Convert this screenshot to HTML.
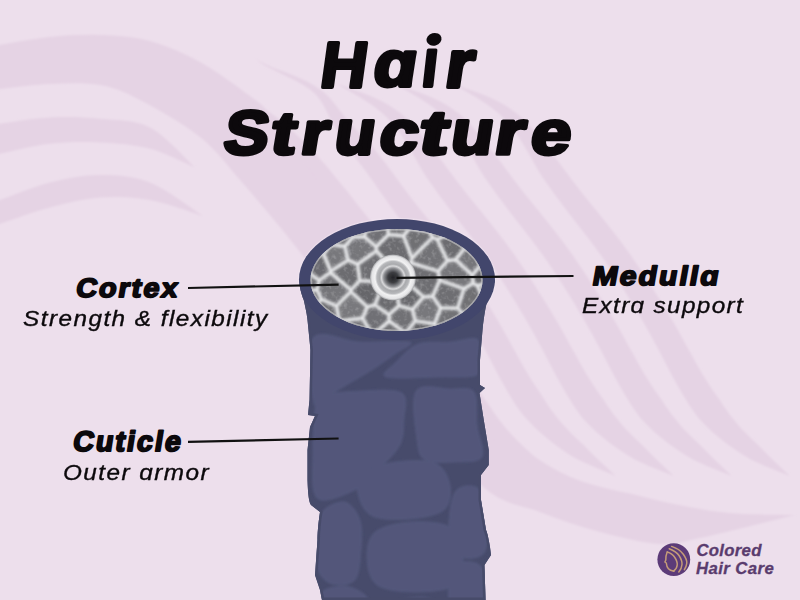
<!DOCTYPE html>
<html><head><meta charset="utf-8">
<style>
html,body{margin:0;padding:0;}
body{width:800px;height:600px;overflow:hidden;background:#eddfec;position:relative;font-family:"Liberation Sans",sans-serif;}
svg{position:absolute;left:0;top:0;}
.t{position:absolute;white-space:nowrap;color:#0c090c;line-height:1;}
.title{font-weight:bold;font-size:65px;-webkit-text-stroke:2.4px #0c090c;transform-origin:0 0;transform:skewX(-9deg) scaleX(1.215);}
.lab{font-weight:bold;font-size:29px;-webkit-text-stroke:1px #0c090c;transform-origin:0 0;transform:skewX(-9deg) scaleX(1.17);}
.sub{font-style:italic;-webkit-text-stroke:0.35px #0c090c;font-size:21.5px;transform-origin:0 0;transform:scaleX(1.13);}
.g{position:absolute;left:0;top:0;line-height:1;white-space:nowrap;transform-origin:0 0;;}
.logo{font-weight:bold;font-style:italic;font-size:16.8px;color:#5a3c6e;-webkit-text-stroke:0.3px #5a3c6e;}
</style></head>
<body>
<svg width="800" height="600" viewBox="0 0 800 600">
<defs>
 <clipPath id="cx"><ellipse cx="396.5" cy="280" rx="86" ry="51"/></clipPath>
 <clipPath id="bd"><path d="M299.4,280 C300,290 302,296 303.75,300 C306,310 307,315 307.5,320 L310.5,350 L309.5,400 L308,415 L315,416 L310,427 L307.5,450 L307.5,480 C308,495 309,502 311,505 L320,512 C318,525 317.5,535 317.5,540 L315,575 L320,590 L322,600 L485.5,600 L484.5,565 L491,555 C490,545 488,535 486,530 L481,500 L481,475 L488.75,465 L488.75,450 L483.75,420 L479.5,393 L485,388 L480,385 L480,360 L482.5,330 C484,315 486,305 487.5,300 C490,293 494,286 495,280 Z"/></clipPath>
 <filter id="bl" x="-10%" y="-10%" width="120%" height="120%"><feGaussianBlur stdDeviation="0.9"/></filter>
 <filter id="bb" x="-5%" y="-5%" width="110%" height="110%"><feGaussianBlur stdDeviation="1.1"/></filter>
 <filter id="noise" x="0" y="0" width="100%" height="100%"><feTurbulence type="fractalNoise" baseFrequency="0.25" numOctaves="2" seed="3"/><feColorMatrix type="matrix" values="0 0 0 0 0.85  0 0 0 0 0.85  0 0 0 0 0.87  0 0 0 1.6 -0.75"/></filter>
 <filter id="bl2" x="-10%" y="-10%" width="120%" height="120%"><feGaussianBlur stdDeviation="0.6"/></filter>
 <radialGradient id="med" cx="0.5" cy="0.5" r="0.5">
  <stop offset="0" stop-color="#252528"/><stop offset="0.22" stop-color="#3c3d41"/><stop offset="0.4" stop-color="#8d8e92"/>
  <stop offset="0.5" stop-color="#d9d9db"/><stop offset="0.58" stop-color="#a9aaad"/><stop offset="0.7" stop-color="#b7b8bb"/>
  <stop offset="0.78" stop-color="#f2f2f3"/><stop offset="0.92" stop-color="#e4e4e6"/><stop offset="1" stop-color="#a0a1a4"/>
 </radialGradient>
</defs>
<g fill="#e5d3e4" filter="url(#bb)">
<path d="M-20.0,50.0 C-16.7,49.2 -11.7,47.2 0.0,45.0 C11.7,42.8 33.3,38.7 50.0,37.0 C66.7,35.3 83.3,34.3 100.0,35.0 C116.7,35.7 133.3,36.5 150.0,41.0 C166.7,45.5 183.3,52.8 200.0,62.0 C216.7,71.2 238.3,87.3 250.0,96.0 C261.7,104.7 261.0,103.3 270.0,114.0 C279.0,124.7 292.0,143.7 304.0,160.0 C316.0,176.3 322.7,183.7 342.0,212.0 C361.3,240.3 397.0,296.7 420.0,330.0 C443.0,363.3 456.7,388.3 480.0,412.0 C503.3,435.7 533.3,458.0 560.0,472.0 C586.7,486.0 613.3,489.3 640.0,496.0 C666.7,502.7 694.2,508.8 720.0,512.0 C745.8,515.2 782.5,514.5 795.0,515.0 L795.0,515.0 C779.2,518.8 722.5,533.2 700.0,538.0 C677.5,542.8 676.7,545.0 660.0,544.0 C643.3,543.0 620.0,537.3 600.0,532.0 C580.0,526.7 560.0,520.0 540.0,512.0 C520.0,504.0 503.3,506.0 480.0,484.0 C456.7,462.0 430.0,418.7 400.0,380.0 C370.0,341.3 321.0,278.7 300.0,252.0 C279.0,225.3 284.0,232.0 274.0,220.0 C264.0,208.0 252.3,193.8 240.0,180.0 C227.7,166.2 216.7,150.3 200.0,137.0 C183.3,123.7 156.7,108.7 140.0,100.0 C123.3,91.3 115.0,87.7 100.0,85.0 C85.0,82.3 66.7,83.3 50.0,84.0 C33.3,84.7 11.7,87.7 0.0,89.0 C-11.7,90.3 -16.7,91.5 -20.0,92.0 Z"/>
<path d="M-20.0,128.0 C-16.7,127.3 -11.7,125.5 0.0,123.8 C11.7,122.0 33.3,118.3 50.0,117.5 C66.7,116.7 83.3,117.1 100.0,118.8 C116.7,120.4 134.2,119.4 150.0,127.5 C165.8,135.6 187.5,160.8 195.0,167.5 C187.5,164.4 165.8,152.9 150.0,148.8 C134.2,144.6 116.7,143.3 100.0,142.5 C83.3,141.7 66.7,141.9 50.0,143.8 C33.3,145.6 11.7,151.4 0.0,153.8 C-11.7,156.1 -16.7,157.3 -20.0,158.0 Z"/>
<path d="M-20.0,207.0 C-16.7,205.8 -11.7,204.1 0.0,200.0 C11.7,195.9 33.3,186.7 50.0,182.5 C66.7,178.3 83.3,175.0 100.0,175.0 C116.7,175.0 132.8,175.7 150.0,182.5 C167.2,189.3 194.2,210.4 203.0,216.0 C194.2,213.3 167.2,203.1 150.0,200.0 C132.8,196.9 116.7,196.2 100.0,197.5 C83.3,198.8 66.7,203.1 50.0,207.5 C33.3,211.9 11.7,220.0 0.0,223.8 C-11.7,227.5 -16.7,229.0 -20.0,230.0 Z"/>
<path d="M235.0,90.0 L240.2,93.9 L245.3,97.8 L250.3,101.9 L255.2,106.1 L260.0,110.4 L264.6,114.7 L269.2,119.2 L273.7,123.8 L278.1,128.4 L282.4,133.2 L286.6,138.0 L290.6,142.9 L294.6,147.8 L298.5,152.9 L302.2,158.0 L305.9,163.2 L309.4,168.4 L312.9,173.7 L316.4,179.1 L319.8,184.5 L323.2,190.0 L326.6,195.5 L330.0,201.0 L333.6,206.4 L337.5,211.7 L341.4,217.0 L345.4,222.2 L349.4,227.3 L353.4,232.4 L357.3,237.4 L361.2,242.5 L365.1,247.5 L368.8,252.6 L372.5,257.7 L376.2,262.8 L379.8,268.1 L383.3,273.3 L386.8,278.6 L390.2,284.0 L393.6,289.4 L397.0,294.8 L400.3,300.2 L403.6,305.7 L406.9,311.2 L410.1,316.6 L413.4,322.1 L416.5,327.6 L419.7,333.2 L422.7,338.7 L425.8,344.3 L428.8,350.0 L431.8,355.7 L434.8,361.5 L437.8,367.3 L440.9,373.1 L444.1,378.9 L447.3,384.7 L450.6,390.4 L454.0,396.2 L457.6,401.8 L461.3,407.4 L465.1,413.0 L469.1,418.4 L473.9,423.3 L478.9,428.0 L484.1,432.5 L489.4,436.7 L494.8,440.7 L500.3,444.6 L505.9,448.3 L511.5,451.8 L517.3,455.2 L523.0,458.5 L528.8,461.6 L534.7,464.7 L540.5,467.6 L546.4,470.5 L552.2,473.3 L558.0,476.0 L558.0,476.0 L553.0,472.0 L548.0,467.9 L543.0,463.8 L538.0,459.6 L533.2,455.4 L528.3,451.1 L523.6,446.7 L519.0,442.2 L514.5,437.7 L510.2,433.1 L506.0,428.4 L502.1,423.6 L498.3,418.7 L494.7,413.8 L491.4,408.8 L488.1,403.7 L484.4,398.9 L480.9,394.0 L477.4,388.9 L474.1,383.7 L470.8,378.4 L467.6,373.0 L464.4,367.5 L461.3,362.0 L458.2,356.3 L455.1,350.7 L451.9,345.0 L448.8,339.2 L445.7,333.5 L442.4,327.8 L439.2,322.1 L435.9,316.4 L432.5,310.8 L429.1,305.2 L425.7,299.7 L422.3,294.2 L418.9,288.7 L415.4,283.2 L411.9,277.7 L408.3,272.3 L404.7,266.8 L401.0,261.4 L397.2,256.0 L393.4,250.6 L389.6,245.3 L385.6,240.0 L381.6,234.8 L377.6,229.7 L373.5,224.6 L369.4,219.6 L365.4,214.6 L361.4,209.6 L357.4,204.6 L353.5,199.6 L349.7,194.6 L345.7,189.6 L341.7,184.7 L337.6,179.7 L333.5,174.7 L329.3,169.6 L325.1,164.6 L320.8,159.7 L316.5,154.7 L312.0,149.9 L307.4,145.2 L302.8,140.5 L298.0,136.0 L293.2,131.5 L288.3,127.2 L283.3,122.9 L278.3,118.8 L273.1,114.8 L267.9,110.9 L262.6,107.1 L257.2,103.4 L251.8,99.9 L246.2,96.4 L240.7,93.2 L235.0,90.0Z"/>
<path d="M254.0,58.0 L259.4,62.0 L265.4,65.7 L271.7,69.1 L278.3,72.3 L284.9,75.5 L291.6,78.8 L298.1,82.1 L304.3,85.7 L310.1,89.6 L315.2,94.1 L319.5,99.0 L323.0,104.4 L326.2,110.4 L329.4,116.9 L332.8,123.5 L336.5,130.0 L340.4,136.3 L344.3,142.4 L348.4,148.5 L352.5,154.3 L356.9,159.8 L361.2,165.3 L365.4,170.8 L369.5,176.4 L373.6,182.1 L377.6,187.9 L381.7,193.8 L385.8,199.6 L390.0,205.5 L394.3,211.4 L398.6,217.2 L403.0,223.0 L407.4,228.6 L411.7,234.3 L416.1,239.9 L420.3,245.4 L424.5,251.0 L428.6,256.6 L432.6,262.3 L436.6,268.1 L440.4,273.9 L444.2,279.8 L448.0,285.7 L451.7,291.7 L455.4,297.7 L459.1,303.7 L462.7,309.8 L466.3,315.8 L469.8,321.9 L473.3,328.0 L476.7,334.1 L480.1,340.3 L483.4,346.5 L486.7,352.8 L490.0,359.1 L493.3,365.5 L496.7,371.9 L500.1,378.4 L503.7,384.8 L507.3,391.2 L511.1,397.6 L515.0,403.9 L519.2,410.1 L523.9,415.9 L529.0,421.5 L534.3,426.9 L539.8,432.1 L545.5,437.1 L551.3,441.8 L557.3,446.3 L563.3,450.6 L569.5,454.7 L575.9,458.5 L582.6,461.7 L589.3,464.8 L596.0,467.8 L602.7,470.6 L609.3,473.3 L616.0,476.0 L616.0,476.0 L610.7,471.2 L605.4,466.3 L600.1,461.4 L594.9,456.4 L589.8,451.4 L584.9,446.2 L579.7,441.4 L574.6,436.7 L569.7,431.8 L565.0,426.8 L560.5,421.8 L556.2,416.6 L552.2,411.3 L548.4,405.9 L544.8,400.3 L541.3,394.7 L537.4,389.1 L533.7,383.5 L530.1,377.7 L526.5,371.7 L523.0,365.7 L519.5,359.5 L516.1,353.3 L512.6,347.0 L509.2,340.7 L505.7,334.4 L502.1,328.0 L498.5,321.7 L494.8,315.5 L491.1,309.3 L487.3,303.2 L483.5,297.1 L479.7,291.0 L475.8,284.9 L471.9,278.9 L468.0,272.8 L463.9,266.8 L459.8,260.8 L455.7,254.9 L451.4,249.0 L447.1,243.1 L442.7,237.3 L438.2,231.6 L433.7,225.9 L429.2,220.4 L424.7,214.9 L420.2,209.4 L415.9,203.9 L411.6,198.4 L407.3,192.8 L403.1,187.2 L398.9,181.5 L394.7,175.7 L390.5,169.9 L386.1,164.1 L381.7,158.4 L377.2,152.7 L372.6,147.0 L367.9,141.6 L363.0,136.4 L358.1,131.4 L353.2,126.4 L348.6,121.2 L344.1,116.0 L339.7,110.5 L335.4,104.7 L330.7,98.9 L325.4,93.5 L319.4,88.9 L313.2,84.9 L306.7,81.3 L300.0,78.2 L293.1,75.3 L286.2,72.6 L279.3,70.0 L272.5,67.4 L266.0,64.5 L259.8,61.5 L254.0,58.0Z"/>
<path d="M337.0,84.0 L342.7,87.2 L348.5,90.5 L354.3,93.9 L360.0,97.3 L365.7,100.9 L371.2,104.6 L376.5,108.5 L381.5,112.6 L386.2,116.8 L390.5,121.3 L394.6,125.9 L398.4,130.9 L402.0,136.1 L405.5,141.5 L408.8,147.0 L412.2,152.8 L415.5,158.6 L418.8,164.5 L422.2,170.4 L425.8,176.2 L429.7,181.8 L433.6,187.3 L437.5,192.8 L441.5,198.2 L445.5,203.6 L449.6,208.9 L453.6,214.3 L457.7,219.5 L461.8,224.8 L465.9,230.1 L469.9,235.3 L474.0,240.5 L477.9,245.8 L481.8,251.0 L485.6,256.3 L489.4,261.6 L493.0,267.0 L496.7,272.4 L500.3,277.9 L503.8,283.4 L507.3,288.9 L510.8,294.5 L514.3,300.1 L517.7,305.8 L521.0,311.4 L524.4,317.1 L527.7,322.7 L530.9,328.4 L534.1,334.1 L537.3,339.9 L540.4,345.7 L543.5,351.5 L546.6,357.4 L549.7,363.4 L552.8,369.4 L556.0,375.4 L559.3,381.4 L562.6,387.4 L566.1,393.4 L569.7,399.3 L573.4,405.2 L577.3,411.1 L581.4,416.8 L586.1,422.1 L591.1,427.1 L596.4,432.0 L601.7,436.6 L607.2,441.0 L612.8,445.2 L618.5,449.2 L624.3,453.1 L630.2,456.8 L636.2,460.2 L642.5,463.1 L648.8,465.9 L655.1,468.5 L661.5,471.1 L667.7,473.6 L674.0,476.0 L674.0,476.0 L669.1,471.4 L664.2,466.8 L659.3,462.2 L654.5,457.5 L649.7,452.7 L645.1,447.9 L640.3,443.3 L635.5,438.8 L630.9,434.3 L626.4,429.7 L622.2,424.9 L618.1,420.1 L614.2,415.3 L610.6,410.3 L607.1,405.2 L603.8,400.0 L600.1,395.0 L596.5,389.9 L593.0,384.6 L589.6,379.2 L586.2,373.7 L582.9,368.1 L579.7,362.4 L576.5,356.6 L573.3,350.8 L570.0,344.9 L566.8,339.0 L563.5,333.1 L560.2,327.1 L556.8,321.3 L553.3,315.4 L549.9,309.6 L546.4,303.9 L542.8,298.2 L539.2,292.5 L535.6,286.8 L532.0,281.1 L528.3,275.5 L524.6,269.8 L520.8,264.2 L517.0,258.6 L513.1,253.1 L509.1,247.6 L505.1,242.1 L501.0,236.7 L496.8,231.3 L492.7,226.0 L488.5,220.7 L484.3,215.5 L480.1,210.3 L475.9,205.2 L471.7,200.0 L467.6,194.9 L463.5,189.7 L459.5,184.6 L455.5,179.4 L451.6,174.1 L447.7,168.9 L443.8,163.6 L439.8,158.4 L435.7,153.2 L431.6,147.9 L427.4,142.5 L423.1,137.1 L418.7,131.8 L414.2,126.5 L409.4,121.5 L404.3,116.6 L398.9,112.0 L393.2,107.9 L387.3,104.3 L381.2,101.0 L374.9,98.0 L368.6,95.3 L362.3,92.8 L355.9,90.4 L349.5,88.2 L343.2,86.1 L337.0,84.0Z"/>
<path d="M395.0,84.0 L400.7,87.2 L406.5,90.5 L412.3,93.9 L418.0,97.3 L423.7,100.9 L429.2,104.6 L434.5,108.5 L439.5,112.6 L444.2,116.8 L448.5,121.3 L452.6,125.9 L456.4,130.9 L460.0,136.1 L463.5,141.5 L466.8,147.0 L470.2,152.8 L473.5,158.6 L476.8,164.5 L480.2,170.4 L483.8,176.2 L487.7,181.8 L491.6,187.3 L495.5,192.8 L499.5,198.2 L503.5,203.6 L507.6,208.9 L511.6,214.3 L515.7,219.5 L519.8,224.8 L523.9,230.1 L527.9,235.3 L532.0,240.5 L535.9,245.8 L539.8,251.0 L543.6,256.3 L547.4,261.6 L551.0,267.0 L554.7,272.4 L558.3,277.9 L561.8,283.4 L565.3,288.9 L568.8,294.5 L572.3,300.1 L575.7,305.8 L579.0,311.4 L582.4,317.1 L585.7,322.7 L588.9,328.4 L592.1,334.1 L595.3,339.9 L598.4,345.7 L601.5,351.5 L604.6,357.4 L607.7,363.4 L610.8,369.4 L614.0,375.4 L617.3,381.4 L620.6,387.4 L624.1,393.4 L627.7,399.3 L631.4,405.2 L635.3,411.1 L639.4,416.8 L644.1,422.1 L649.1,427.1 L654.4,432.0 L659.7,436.6 L665.2,441.0 L670.8,445.2 L676.5,449.2 L682.3,453.1 L688.2,456.8 L694.2,460.2 L700.5,463.1 L706.8,465.9 L713.1,468.5 L719.5,471.1 L725.7,473.6 L732.0,476.0 L732.0,476.0 L727.1,471.4 L722.2,466.8 L717.3,462.2 L712.5,457.5 L707.7,452.7 L703.1,447.9 L698.3,443.3 L693.5,438.8 L688.9,434.3 L684.4,429.7 L680.2,424.9 L676.1,420.1 L672.2,415.3 L668.6,410.3 L665.1,405.2 L661.8,400.0 L658.1,395.0 L654.5,389.9 L651.0,384.6 L647.6,379.2 L644.2,373.7 L640.9,368.1 L637.7,362.4 L634.5,356.6 L631.3,350.8 L628.0,344.9 L624.8,339.0 L621.5,333.1 L618.2,327.1 L614.8,321.3 L611.3,315.4 L607.9,309.6 L604.4,303.9 L600.8,298.2 L597.2,292.5 L593.6,286.8 L590.0,281.1 L586.3,275.5 L582.6,269.8 L578.8,264.2 L575.0,258.6 L571.1,253.1 L567.1,247.6 L563.1,242.1 L559.0,236.7 L554.8,231.3 L550.7,226.0 L546.5,220.7 L542.3,215.5 L538.1,210.3 L533.9,205.2 L529.7,200.0 L525.6,194.9 L521.5,189.7 L517.5,184.6 L513.5,179.4 L509.6,174.1 L505.7,168.9 L501.8,163.6 L497.8,158.4 L493.7,153.2 L489.6,147.9 L485.4,142.5 L481.1,137.1 L476.7,131.8 L472.2,126.5 L467.4,121.5 L462.3,116.6 L456.9,112.0 L451.2,107.9 L445.3,104.3 L439.2,101.0 L432.9,98.0 L426.6,95.3 L420.3,92.8 L413.9,90.4 L407.5,88.2 L401.2,86.1 L395.0,84.0Z"/>
<path d="M453.0,84.0 L458.7,87.2 L464.5,90.5 L470.3,93.9 L476.0,97.3 L481.7,100.9 L487.2,104.6 L492.5,108.5 L497.5,112.6 L502.2,116.8 L506.5,121.3 L510.6,125.9 L514.4,130.9 L518.0,136.1 L521.5,141.5 L524.8,147.0 L528.2,152.8 L531.5,158.6 L534.8,164.5 L538.2,170.4 L541.8,176.2 L545.7,181.8 L549.6,187.3 L553.5,192.8 L557.5,198.2 L561.5,203.6 L565.6,208.9 L569.6,214.3 L573.7,219.5 L577.8,224.8 L581.9,230.1 L585.9,235.3 L590.0,240.5 L593.9,245.8 L597.8,251.0 L601.6,256.3 L605.4,261.6 L609.0,267.0 L612.7,272.4 L616.3,277.9 L619.8,283.4 L623.3,288.9 L626.8,294.5 L630.3,300.1 L633.7,305.8 L637.0,311.4 L640.4,317.1 L643.7,322.7 L646.9,328.4 L650.1,334.1 L653.3,339.9 L656.4,345.7 L659.5,351.5 L662.6,357.4 L665.7,363.4 L668.8,369.4 L672.0,375.4 L675.3,381.4 L678.6,387.4 L682.1,393.4 L685.7,399.3 L689.4,405.2 L693.3,411.1 L697.4,416.8 L702.1,422.1 L707.1,427.1 L712.4,432.0 L717.7,436.6 L723.2,441.0 L728.8,445.2 L734.5,449.2 L740.3,453.1 L746.2,456.8 L752.2,460.2 L758.5,463.1 L764.8,465.9 L771.1,468.5 L777.5,471.1 L783.7,473.6 L790.0,476.0 L790.0,476.0 L785.1,471.4 L780.2,466.8 L775.3,462.2 L770.5,457.5 L765.7,452.7 L761.1,447.9 L756.3,443.3 L751.5,438.8 L746.9,434.3 L742.4,429.7 L738.2,424.9 L734.1,420.1 L730.2,415.3 L726.6,410.3 L723.1,405.2 L719.8,400.0 L716.1,395.0 L712.5,389.9 L709.0,384.6 L705.6,379.2 L702.2,373.7 L698.9,368.1 L695.7,362.4 L692.5,356.6 L689.3,350.8 L686.0,344.9 L682.8,339.0 L679.5,333.1 L676.2,327.1 L672.8,321.3 L669.3,315.4 L665.9,309.6 L662.4,303.9 L658.8,298.2 L655.2,292.5 L651.6,286.8 L648.0,281.1 L644.3,275.5 L640.6,269.8 L636.8,264.2 L633.0,258.6 L629.1,253.1 L625.1,247.6 L621.1,242.1 L617.0,236.7 L612.8,231.3 L608.7,226.0 L604.5,220.7 L600.3,215.5 L596.1,210.3 L591.9,205.2 L587.7,200.0 L583.6,194.9 L579.5,189.7 L575.5,184.6 L571.5,179.4 L567.6,174.1 L563.7,168.9 L559.8,163.6 L555.8,158.4 L551.7,153.2 L547.6,147.9 L543.4,142.5 L539.1,137.1 L534.7,131.8 L530.2,126.5 L525.4,121.5 L520.3,116.6 L514.9,112.0 L509.2,107.9 L503.3,104.3 L497.2,101.0 L490.9,98.0 L484.6,95.3 L478.3,92.8 L471.9,90.4 L465.5,88.2 L459.2,86.1 L453.0,84.0Z"/>
</g>
<ellipse cx="397" cy="279.5" rx="98.6" ry="61.1" fill="none" stroke="#f3eaf3" stroke-width="1.2" opacity="0.5"/>
<path d="M299.4,280 C300,290 302,296 303.75,300 C306,310 307,315 307.5,320 L310.5,350 L309.5,400 L308,415 L315,416 L310,427 L307.5,450 L307.5,480 C308,495 309,502 311,505 L320,512 C318,525 317.5,535 317.5,540 L315,575 L320,590 L322,600 L485.5,600 L484.5,565 L491,555 C490,545 488,535 486,530 L481,500 L481,475 L488.75,465 L488.75,450 L483.75,420 L479.5,393 L485,388 L480,385 L480,360 L482.5,330 C484,315 486,305 487.5,300 C490,293 494,286 495,280 Z" fill="#474b6b"/>
<g clip-path="url(#bd)"><g fill="#52577a" stroke="#52577a" stroke-width="1" stroke-linejoin="round" filter="url(#bl)">
<path d="M313.0,338.0 C320.7,327.7 343.8,341.3 360.0,342.0 C376.2,342.7 404.2,340.0 410.0,342.0 C415.8,344.0 401.3,349.3 395.0,354.0 C388.7,358.7 380.3,364.7 372.0,370.0 C363.7,375.3 352.0,381.8 345.0,386.0 C338.0,390.2 335.2,392.0 330.0,395.0 C324.8,398.0 316.8,413.5 314.0,404.0 C311.2,394.5 305.3,348.3 313.0,338.0Z"/>
<path d="M418.0,344.0 C427.0,340.7 440.2,342.8 450.0,342.0 C459.8,341.2 472.3,336.3 477.0,339.0 C481.7,341.7 478.0,352.0 478.0,358.0 C478.0,364.0 483.3,371.8 477.0,375.0 C470.7,378.2 455.2,376.7 440.0,377.0 C424.8,377.3 393.3,379.5 386.0,377.0 C378.7,374.5 390.7,367.5 396.0,362.0 C401.3,356.5 409.0,347.3 418.0,344.0Z"/>
<path d="M320.0,396.0 C327.5,392.8 346.3,391.5 360.0,391.0 C373.7,390.5 394.7,388.2 402.0,393.0 C409.3,397.8 404.3,411.3 404.0,420.0 C403.7,428.7 404.0,437.0 400.0,445.0 C396.0,453.0 387.5,460.5 380.0,468.0 C372.5,475.5 365.5,485.0 355.0,490.0 C344.5,495.0 324.0,504.7 317.0,498.0 C310.0,491.3 313.3,464.7 313.0,450.0 C312.7,435.3 313.8,419.0 315.0,410.0 C316.2,401.0 312.5,399.2 320.0,396.0Z"/>
<path d="M416.0,391.0 C421.5,382.5 440.3,388.8 450.0,389.0 C459.7,389.2 469.5,386.0 474.0,392.0 C478.5,398.0 475.7,414.2 477.0,425.0 C478.3,435.8 485.7,450.8 482.0,457.0 C478.3,463.2 464.5,461.5 455.0,462.0 C445.5,462.5 431.3,463.7 425.0,460.0 C418.7,456.3 418.5,451.5 417.0,440.0 C415.5,428.5 410.5,399.5 416.0,391.0Z"/>
<path d="M362.0,473.0 C368.2,467.7 382.8,463.7 395.0,462.0 C407.2,460.3 425.8,459.2 435.0,463.0 C444.2,466.8 448.5,477.2 450.0,485.0 C451.5,492.8 450.7,504.3 444.0,510.0 C437.3,515.7 422.0,518.0 410.0,519.0 C398.0,520.0 380.7,520.2 372.0,516.0 C363.3,511.8 359.7,501.2 358.0,494.0 C356.3,486.8 355.8,478.3 362.0,473.0Z"/>
<path d="M322.0,512.0 C326.7,505.7 338.7,500.7 345.0,502.0 C351.3,503.3 357.3,512.0 360.0,520.0 C362.7,528.0 361.8,540.0 361.0,550.0 C360.2,560.0 359.8,574.3 355.0,580.0 C350.2,585.7 338.2,585.7 332.0,584.0 C325.8,582.3 320.5,577.3 318.0,570.0 C315.5,562.7 316.3,549.7 317.0,540.0 C317.7,530.3 317.3,518.3 322.0,512.0Z"/>
<path d="M455.0,492.0 C459.5,484.8 470.8,484.8 476.0,487.0 C481.2,489.2 484.0,497.0 486.0,505.0 C488.0,513.0 488.7,526.7 488.0,535.0 C487.3,543.3 486.7,551.5 482.0,555.0 C477.3,558.5 465.5,560.2 460.0,556.0 C454.5,551.8 449.8,540.7 449.0,530.0 C448.2,519.3 450.5,499.2 455.0,492.0Z"/>
<path d="M375.0,532.0 C382.2,526.0 397.5,522.8 410.0,522.0 C422.5,521.2 441.2,521.5 450.0,527.0 C458.8,532.5 462.2,545.3 463.0,555.0 C463.8,564.7 463.0,578.8 455.0,585.0 C447.0,591.2 428.0,592.0 415.0,592.0 C402.0,592.0 385.0,590.7 377.0,585.0 C369.0,579.3 367.3,566.8 367.0,558.0 C366.7,549.2 367.8,538.0 375.0,532.0Z"/>
<path d="M322.0,592.0 C325.8,587.7 337.7,585.3 345.0,586.0 C352.3,586.7 362.5,591.7 366.0,596.0 C369.5,600.3 373.3,609.3 366.0,612.0 C358.7,614.7 329.3,615.3 322.0,612.0 C314.7,608.7 318.2,596.3 322.0,592.0Z"/>
<path d="M452.0,568.0 C456.0,559.8 470.2,561.0 476.0,563.0 C481.8,565.0 485.2,571.8 487.0,580.0 C488.8,588.2 492.8,606.7 487.0,612.0 C481.2,617.3 457.8,619.3 452.0,612.0 C446.2,604.7 448.0,576.2 452.0,568.0Z"/>
<path d="M380.0,606.0 C386.7,603.5 409.2,597.0 420.0,597.0 C430.8,597.0 440.8,603.5 445.0,606.0 C449.2,608.5 455.8,611.0 445.0,612.0 C434.2,613.0 390.8,613.0 380.0,612.0 C369.2,611.0 373.3,608.5 380.0,606.0Z"/>
</g>
<path d="M299.4,280 C300,290 302,296 303.75,300 C306,310 307,315 307.5,320 L310.5,350 L309.5,400 L308,415 L315,416 L310,427 L307.5,450 L307.5,480 C308,495 309,502 311,505 L320,512 C318,525 317.5,535 317.5,540 L315,575 L320,590 L322,600 L485.5,600 L484.5,565 L491,555 C490,545 488,535 486,530 L481,500 L481,475 L488.75,465 L488.75,450 L483.75,420 L479.5,393 L485,388 L480,385 L480,360 L482.5,330 C484,315 486,305 487.5,300 C490,293 494,286 495,280 Z" fill="none" stroke="#474b6b" stroke-width="5" filter="url(#bl2)"/>
</g>
<ellipse cx="397" cy="279.5" rx="98" ry="60.5" fill="#42466c"/>
<g clip-path="url(#cx)">
 <rect x="300" y="220" width="200" height="120" fill="#c8c8ca"/>
 <g filter="url(#bl)">
 <path d="M415.3,321.0 L434.6,323.8 L535.5,585.6 L435.3,693.7 L405.7,333.1Z" fill="rgb(101,101,105)"/>
<path d="M447.4,260.7 L437.3,239.5 L493.7,212.0 L455.6,259.6Z" fill="rgb(108,108,112)"/>
<path d="M238.5,568.4 L318.3,650.3 L372.3,335.4 L362.6,318.2 L339.3,321.2Z" fill="rgb(117,117,121)"/>
<path d="M439.8,280.3 L463.9,288.8 L473.1,283.3 L472.3,275.2 L455.6,259.6 L447.4,260.7 L438.2,271.2Z" fill="rgb(120,120,124)"/>
<path d="M376.5,250.9 L357.5,264.3 L348.1,260.1 L344.8,246.4 L353.0,237.1 L364.5,236.8 L376.1,246.6Z" fill="rgb(118,118,122)"/>
<path d="M348.1,260.1 L330.7,271.2 L330.4,272.5 L351.0,290.0 L359.8,280.7 L357.5,264.3Z" fill="rgb(108,108,112)"/>
<path d="M353.0,237.1 L298.4,158.6 L330.3,244.5 L344.8,246.4Z" fill="rgb(118,118,122)"/>
<path d="M409.7,228.1 L379.0,68.4 L366.9,-147.9 L396.5,-184.8 L497.7,-72.4 L429.3,231.0Z" fill="rgb(119,119,123)"/>
<path d="M319.2,280.4 L279.0,250.5 L45.2,160.5 L-111.7,280.0 L-31.5,341.7 L317.0,289.9Z" fill="rgb(112,112,116)"/>
<path d="M389.2,321.0 L372.3,335.4 L318.3,650.3 L396.5,739.4 L435.3,693.7 L405.7,333.1Z" fill="rgb(111,111,115)"/>
<path d="M432.6,296.3 L439.8,280.3 L438.2,271.2 L411.0,262.9 L397.2,273.4 L423.5,296.9Z" fill="rgb(110,110,114)"/>
<path d="M376.5,250.9 L396.6,273.5 L397.2,273.4 L411.0,262.9 L412.0,257.9 L403.5,235.9 L388.6,234.6 L376.1,246.6Z" fill="rgb(108,108,112)"/>
<path d="M432.6,296.3 L440.7,307.9 L434.6,323.8 L415.3,321.0 L412.5,309.5 L423.5,296.9Z" fill="rgb(120,120,124)"/>
<path d="M351.0,290.0 L359.8,280.7 L384.0,282.3 L374.8,304.9 L367.4,306.9 L350.8,291.6Z" fill="rgb(102,102,106)"/>
<path d="M376.1,246.6 L388.6,234.6 L377.8,155.2 L364.5,236.8Z" fill="rgb(112,112,116)"/>
<path d="M411.0,262.9 L412.0,257.9 L432.6,237.5 L437.3,239.5 L447.4,260.7 L438.2,271.2Z" fill="rgb(114,114,118)"/>
<path d="M463.9,288.8 L473.1,283.3 L477.3,285.6 L515.3,371.3 L457.7,308.0Z" fill="rgb(111,111,115)"/>
<path d="M455.6,259.6 L472.3,275.2 L593.9,128.0 L493.7,212.0Z" fill="rgb(118,118,122)"/>
<path d="M472.3,275.2 L473.1,283.3 L477.3,285.6 L807.5,206.4 L645.8,79.2 L593.9,128.0Z" fill="rgb(106,106,110)"/>
<path d="M457.7,308.0 L515.3,371.3 L611.7,511.9 L535.5,585.6 L434.6,323.8 L440.7,307.9Z" fill="rgb(114,114,118)"/>
<path d="M330.4,272.5 L351.0,290.0 L350.8,291.6 L336.4,306.0 L321.4,299.3 L317.0,289.9 L319.2,280.4Z" fill="rgb(117,117,121)"/>
<path d="M321.4,299.3 L155.8,494.7 L238.5,568.4 L339.3,321.2 L336.4,306.0Z" fill="rgb(111,111,115)"/>
<path d="M374.8,304.9 L389.0,314.7 L399.0,305.6 L394.6,276.2 L384.0,282.3Z" fill="rgb(108,108,112)"/>
<path d="M330.7,271.2 L330.4,272.5 L319.2,280.4 L279.0,250.5 L323.6,254.2Z" fill="rgb(107,107,111)"/>
<path d="M374.8,304.9 L389.0,314.7 L389.2,321.0 L372.3,335.4 L362.6,318.2 L367.4,306.9Z" fill="rgb(112,112,116)"/>
<path d="M437.3,239.5 L432.6,237.5 L429.3,231.0 L497.7,-72.4 L645.8,79.2 L593.9,128.0 L493.7,212.0Z" fill="rgb(102,102,106)"/>
<path d="M348.1,260.1 L330.7,271.2 L323.6,254.2 L330.3,244.5 L344.8,246.4Z" fill="rgb(120,120,124)"/>
<path d="M432.6,296.3 L440.7,307.9 L457.7,308.0 L463.9,288.8 L439.8,280.3Z" fill="rgb(110,110,114)"/>
<path d="M403.5,235.9 L409.7,228.1 L379.0,68.4 L377.8,155.2 L388.6,234.6Z" fill="rgb(121,121,125)"/>
<path d="M350.8,291.6 L367.4,306.9 L362.6,318.2 L339.3,321.2 L336.4,306.0Z" fill="rgb(121,121,125)"/>
<path d="M376.5,250.9 L396.6,273.5 L394.6,276.2 L384.0,282.3 L359.8,280.7 L357.5,264.3Z" fill="rgb(110,110,114)"/>
<path d="M423.5,296.9 L412.5,309.5 L399.0,305.6 L394.6,276.2 L396.6,273.5 L397.2,273.4Z" fill="rgb(105,105,109)"/>
<path d="M330.3,244.5 L323.6,254.2 L279.0,250.5 L45.2,160.5 L219.8,6.1 L298.4,158.6Z" fill="rgb(119,119,123)"/>
<path d="M364.5,236.8 L377.8,155.2 L379.0,68.4 L366.9,-147.9 L219.8,6.1 L298.4,158.6 L353.0,237.1Z" fill="rgb(121,121,125)"/>
<path d="M389.0,314.7 L389.2,321.0 L405.7,333.1 L415.3,321.0 L412.5,309.5 L399.0,305.6Z" fill="rgb(113,113,117)"/>
<path d="M317.0,289.9 L-31.5,341.7 L155.8,494.7 L321.4,299.3Z" fill="rgb(114,114,118)"/>
<path d="M477.3,285.6 L807.5,206.4 L907.5,280.0 L611.7,511.9 L515.3,371.3Z" fill="rgb(116,116,120)"/>
<path d="M412.0,257.9 L403.5,235.9 L409.7,228.1 L429.3,231.0 L432.6,237.5Z" fill="rgb(111,111,115)"/>
 <g fill="none" stroke="#d5d6d9" stroke-width="5" stroke-linejoin="round" opacity="0.45">
 <path d="M415.3,321.0 L434.6,323.8 L535.5,585.6 L435.3,693.7 L405.7,333.1Z"/>
<path d="M447.4,260.7 L437.3,239.5 L493.7,212.0 L455.6,259.6Z"/>
<path d="M238.5,568.4 L318.3,650.3 L372.3,335.4 L362.6,318.2 L339.3,321.2Z"/>
<path d="M439.8,280.3 L463.9,288.8 L473.1,283.3 L472.3,275.2 L455.6,259.6 L447.4,260.7 L438.2,271.2Z"/>
<path d="M376.5,250.9 L357.5,264.3 L348.1,260.1 L344.8,246.4 L353.0,237.1 L364.5,236.8 L376.1,246.6Z"/>
<path d="M348.1,260.1 L330.7,271.2 L330.4,272.5 L351.0,290.0 L359.8,280.7 L357.5,264.3Z"/>
<path d="M353.0,237.1 L298.4,158.6 L330.3,244.5 L344.8,246.4Z"/>
<path d="M409.7,228.1 L379.0,68.4 L366.9,-147.9 L396.5,-184.8 L497.7,-72.4 L429.3,231.0Z"/>
<path d="M319.2,280.4 L279.0,250.5 L45.2,160.5 L-111.7,280.0 L-31.5,341.7 L317.0,289.9Z"/>
<path d="M389.2,321.0 L372.3,335.4 L318.3,650.3 L396.5,739.4 L435.3,693.7 L405.7,333.1Z"/>
<path d="M432.6,296.3 L439.8,280.3 L438.2,271.2 L411.0,262.9 L397.2,273.4 L423.5,296.9Z"/>
<path d="M376.5,250.9 L396.6,273.5 L397.2,273.4 L411.0,262.9 L412.0,257.9 L403.5,235.9 L388.6,234.6 L376.1,246.6Z"/>
<path d="M432.6,296.3 L440.7,307.9 L434.6,323.8 L415.3,321.0 L412.5,309.5 L423.5,296.9Z"/>
<path d="M351.0,290.0 L359.8,280.7 L384.0,282.3 L374.8,304.9 L367.4,306.9 L350.8,291.6Z"/>
<path d="M376.1,246.6 L388.6,234.6 L377.8,155.2 L364.5,236.8Z"/>
<path d="M411.0,262.9 L412.0,257.9 L432.6,237.5 L437.3,239.5 L447.4,260.7 L438.2,271.2Z"/>
<path d="M463.9,288.8 L473.1,283.3 L477.3,285.6 L515.3,371.3 L457.7,308.0Z"/>
<path d="M455.6,259.6 L472.3,275.2 L593.9,128.0 L493.7,212.0Z"/>
<path d="M472.3,275.2 L473.1,283.3 L477.3,285.6 L807.5,206.4 L645.8,79.2 L593.9,128.0Z"/>
<path d="M457.7,308.0 L515.3,371.3 L611.7,511.9 L535.5,585.6 L434.6,323.8 L440.7,307.9Z"/>
<path d="M330.4,272.5 L351.0,290.0 L350.8,291.6 L336.4,306.0 L321.4,299.3 L317.0,289.9 L319.2,280.4Z"/>
<path d="M321.4,299.3 L155.8,494.7 L238.5,568.4 L339.3,321.2 L336.4,306.0Z"/>
<path d="M374.8,304.9 L389.0,314.7 L399.0,305.6 L394.6,276.2 L384.0,282.3Z"/>
<path d="M330.7,271.2 L330.4,272.5 L319.2,280.4 L279.0,250.5 L323.6,254.2Z"/>
<path d="M374.8,304.9 L389.0,314.7 L389.2,321.0 L372.3,335.4 L362.6,318.2 L367.4,306.9Z"/>
<path d="M437.3,239.5 L432.6,237.5 L429.3,231.0 L497.7,-72.4 L645.8,79.2 L593.9,128.0 L493.7,212.0Z"/>
<path d="M348.1,260.1 L330.7,271.2 L323.6,254.2 L330.3,244.5 L344.8,246.4Z"/>
<path d="M432.6,296.3 L440.7,307.9 L457.7,308.0 L463.9,288.8 L439.8,280.3Z"/>
<path d="M403.5,235.9 L409.7,228.1 L379.0,68.4 L377.8,155.2 L388.6,234.6Z"/>
<path d="M350.8,291.6 L367.4,306.9 L362.6,318.2 L339.3,321.2 L336.4,306.0Z"/>
<path d="M376.5,250.9 L396.6,273.5 L394.6,276.2 L384.0,282.3 L359.8,280.7 L357.5,264.3Z"/>
<path d="M423.5,296.9 L412.5,309.5 L399.0,305.6 L394.6,276.2 L396.6,273.5 L397.2,273.4Z"/>
<path d="M330.3,244.5 L323.6,254.2 L279.0,250.5 L45.2,160.5 L219.8,6.1 L298.4,158.6Z"/>
<path d="M364.5,236.8 L377.8,155.2 L379.0,68.4 L366.9,-147.9 L219.8,6.1 L298.4,158.6 L353.0,237.1Z"/>
<path d="M389.0,314.7 L389.2,321.0 L405.7,333.1 L415.3,321.0 L412.5,309.5 L399.0,305.6Z"/>
<path d="M317.0,289.9 L-31.5,341.7 L155.8,494.7 L321.4,299.3Z"/>
<path d="M477.3,285.6 L807.5,206.4 L907.5,280.0 L611.7,511.9 L515.3,371.3Z"/>
<path d="M412.0,257.9 L403.5,235.9 L409.7,228.1 L429.3,231.0 L432.6,237.5Z"/>
 </g>
 <g fill="none" stroke="#eeeff1" stroke-width="1.7" stroke-linejoin="round">
 <path d="M415.3,321.0 L434.6,323.8 L535.5,585.6 L435.3,693.7 L405.7,333.1Z"/>
<path d="M447.4,260.7 L437.3,239.5 L493.7,212.0 L455.6,259.6Z"/>
<path d="M238.5,568.4 L318.3,650.3 L372.3,335.4 L362.6,318.2 L339.3,321.2Z"/>
<path d="M439.8,280.3 L463.9,288.8 L473.1,283.3 L472.3,275.2 L455.6,259.6 L447.4,260.7 L438.2,271.2Z"/>
<path d="M376.5,250.9 L357.5,264.3 L348.1,260.1 L344.8,246.4 L353.0,237.1 L364.5,236.8 L376.1,246.6Z"/>
<path d="M348.1,260.1 L330.7,271.2 L330.4,272.5 L351.0,290.0 L359.8,280.7 L357.5,264.3Z"/>
<path d="M353.0,237.1 L298.4,158.6 L330.3,244.5 L344.8,246.4Z"/>
<path d="M409.7,228.1 L379.0,68.4 L366.9,-147.9 L396.5,-184.8 L497.7,-72.4 L429.3,231.0Z"/>
<path d="M319.2,280.4 L279.0,250.5 L45.2,160.5 L-111.7,280.0 L-31.5,341.7 L317.0,289.9Z"/>
<path d="M389.2,321.0 L372.3,335.4 L318.3,650.3 L396.5,739.4 L435.3,693.7 L405.7,333.1Z"/>
<path d="M432.6,296.3 L439.8,280.3 L438.2,271.2 L411.0,262.9 L397.2,273.4 L423.5,296.9Z"/>
<path d="M376.5,250.9 L396.6,273.5 L397.2,273.4 L411.0,262.9 L412.0,257.9 L403.5,235.9 L388.6,234.6 L376.1,246.6Z"/>
<path d="M432.6,296.3 L440.7,307.9 L434.6,323.8 L415.3,321.0 L412.5,309.5 L423.5,296.9Z"/>
<path d="M351.0,290.0 L359.8,280.7 L384.0,282.3 L374.8,304.9 L367.4,306.9 L350.8,291.6Z"/>
<path d="M376.1,246.6 L388.6,234.6 L377.8,155.2 L364.5,236.8Z"/>
<path d="M411.0,262.9 L412.0,257.9 L432.6,237.5 L437.3,239.5 L447.4,260.7 L438.2,271.2Z"/>
<path d="M463.9,288.8 L473.1,283.3 L477.3,285.6 L515.3,371.3 L457.7,308.0Z"/>
<path d="M455.6,259.6 L472.3,275.2 L593.9,128.0 L493.7,212.0Z"/>
<path d="M472.3,275.2 L473.1,283.3 L477.3,285.6 L807.5,206.4 L645.8,79.2 L593.9,128.0Z"/>
<path d="M457.7,308.0 L515.3,371.3 L611.7,511.9 L535.5,585.6 L434.6,323.8 L440.7,307.9Z"/>
<path d="M330.4,272.5 L351.0,290.0 L350.8,291.6 L336.4,306.0 L321.4,299.3 L317.0,289.9 L319.2,280.4Z"/>
<path d="M321.4,299.3 L155.8,494.7 L238.5,568.4 L339.3,321.2 L336.4,306.0Z"/>
<path d="M374.8,304.9 L389.0,314.7 L399.0,305.6 L394.6,276.2 L384.0,282.3Z"/>
<path d="M330.7,271.2 L330.4,272.5 L319.2,280.4 L279.0,250.5 L323.6,254.2Z"/>
<path d="M374.8,304.9 L389.0,314.7 L389.2,321.0 L372.3,335.4 L362.6,318.2 L367.4,306.9Z"/>
<path d="M437.3,239.5 L432.6,237.5 L429.3,231.0 L497.7,-72.4 L645.8,79.2 L593.9,128.0 L493.7,212.0Z"/>
<path d="M348.1,260.1 L330.7,271.2 L323.6,254.2 L330.3,244.5 L344.8,246.4Z"/>
<path d="M432.6,296.3 L440.7,307.9 L457.7,308.0 L463.9,288.8 L439.8,280.3Z"/>
<path d="M403.5,235.9 L409.7,228.1 L379.0,68.4 L377.8,155.2 L388.6,234.6Z"/>
<path d="M350.8,291.6 L367.4,306.9 L362.6,318.2 L339.3,321.2 L336.4,306.0Z"/>
<path d="M376.5,250.9 L396.6,273.5 L394.6,276.2 L384.0,282.3 L359.8,280.7 L357.5,264.3Z"/>
<path d="M423.5,296.9 L412.5,309.5 L399.0,305.6 L394.6,276.2 L396.6,273.5 L397.2,273.4Z"/>
<path d="M330.3,244.5 L323.6,254.2 L279.0,250.5 L45.2,160.5 L219.8,6.1 L298.4,158.6Z"/>
<path d="M364.5,236.8 L377.8,155.2 L379.0,68.4 L366.9,-147.9 L219.8,6.1 L298.4,158.6 L353.0,237.1Z"/>
<path d="M389.0,314.7 L389.2,321.0 L405.7,333.1 L415.3,321.0 L412.5,309.5 L399.0,305.6Z"/>
<path d="M317.0,289.9 L-31.5,341.7 L155.8,494.7 L321.4,299.3Z"/>
<path d="M477.3,285.6 L807.5,206.4 L907.5,280.0 L611.7,511.9 L515.3,371.3Z"/>
<path d="M412.0,257.9 L403.5,235.9 L409.7,228.1 L429.3,231.0 L432.6,237.5Z"/>
 </g>
 </g>
 <rect x="300" y="220" width="200" height="120" filter="url(#noise)" opacity="0.35"/>
 <ellipse cx="396.5" cy="280" rx="86" ry="51" fill="none" stroke="#c9cacd" stroke-width="3" opacity="0.6"/>
 <circle cx="393" cy="277.5" r="23" fill="url(#med)" filter="url(#bl2)"/>
</g>
</svg>
<svg width="800" height="600" style="position:absolute;left:0;top:0"><g font-family="Liberation Sans" font-weight="bold" font-size="100" fill="#0c090c" stroke="#0c090c" stroke-width="6" stroke-linejoin="round">
<text transform="translate(318.67,86.58) scale(0.6324,0.6413) skewX(-8)">H</text>
<text transform="translate(371.18,85.93) scale(0.7049,0.6426) skewX(-8)">ɑ</text>
<text transform="translate(420.44,86.48) scale(0.5407,0.6729) skewX(-8)">ı</text>
<text transform="translate(443.34,86.52) scale(0.7159,0.6617) skewX(-8)">r</text>
<text transform="translate(221.67,154.22) scale(0.6667,0.6195) skewX(-8)">S</text>
<text transform="translate(268.78,153.59) scale(0.7289,0.6014) skewX(-8)">t</text>
<text transform="translate(298.85,154.19) scale(0.7114,0.6050) skewX(-8)">r</text>
<text transform="translate(332.45,154.00) scale(0.6586,0.6250) skewX(-8)">u</text>
<text transform="translate(377.21,154.04) scale(0.6964,0.6148) skewX(-8)">c</text>
<text transform="translate(416.63,153.53) scale(0.8421,0.6181) skewX(-8)">t</text>
<text transform="translate(448.86,154.00) scale(0.6897,0.6250) skewX(-8)">u</text>
<text transform="translate(492.47,154.15) scale(0.7568,0.6167) skewX(-8)">r</text>
<text transform="translate(528.52,154.04) scale(0.7200,0.6148) skewX(-8)">e</text>
</g><ellipse cx="434" cy="39.3" rx="7.6" ry="6.3" transform="rotate(-15 434 39.3)" fill="#0c090c"/></svg>
<svg width="800" height="600" style="position:absolute;left:0;top:0"><g font-family="Liberation Sans" fill="#0c090c" stroke="#0c090c" stroke-linejoin="round">
<text transform="translate(74.96,296.94) scale(0.2880,0.2649) skewX(-9)" letter-spacing="7" font-weight="bold" font-style="normal" font-size="100" stroke-width="7">Cortex</text>
<text transform="translate(591.40,284.74) scale(0.3002,0.2663) skewX(-9)" letter-spacing="7" font-weight="bold" font-style="normal" font-size="100" stroke-width="7">Medullɑ</text>
<text transform="translate(72.07,450.67) scale(0.2867,0.2825) skewX(-9)" letter-spacing="7" font-weight="bold" font-style="normal" font-size="100" stroke-width="7">Cuticle</text>
</g></svg>
<div class="t sub" style="left:23px;top:308.5px;letter-spacing:1.3px;">Strength &amp; flexibility</div>
<div class="t sub" style="left:582px;top:295.5px;letter-spacing:1.2px;">Extrɑ support</div>
<div class="t sub" style="left:62.5px;top:462.5px;letter-spacing:1.3px;">Outer ɑrmor</div>
<svg width="800" height="600" viewBox="0 0 800 600">
  <line x1="188" y1="288" x2="338.6" y2="284.6" stroke="#111" stroke-width="2.2"/>
  <line x1="396.5" y1="277.9" x2="573.5" y2="276" stroke="#111" stroke-width="2.2"/>
  <line x1="188" y1="441.9" x2="338.6" y2="438.5" stroke="#111" stroke-width="2.2"/>
  <circle cx="673.8" cy="559.6" r="16.4" fill="#5c3b78"/>
  <g fill="none" stroke="#c59c78" stroke-width="1.5" stroke-linecap="round" stroke-linejoin="round">
   <path d="M667.2,552 C666,555 665.5,558 665.8,560 L664.9,562 L666.3,563 C666.5,565.5 667.2,567.5 668.4,568.8 C669.5,570 671.5,570.8 674,571.2"/>
   <path d="M667.2,552 C670.5,553 673,554.5 674.5,557 C676.5,560 677.5,563 677.2,565 C677,567.5 675.5,569.8 673.5,571.2"/>
   <path d="M669.2,548.8 C673.5,550.5 677,552.5 679,555.5 C681.3,559 682.2,562 682,564.5 C681.8,567.5 680.5,570 678.8,572"/>
   <path d="M671.6,546.4 C676.5,548 680.5,550.5 683.3,554.2 C686,558 687,561 686.8,563 C686.5,566 685.5,568 684.4,569.6"/>
  </g>
</svg>
<div class="t logo" style="left:696.5px;top:543.2px;letter-spacing:0.25px;">Colored</div>
<div class="t logo" style="left:696px;top:561px;letter-spacing:0.4px;">Hair Care</div>
</body></html>
